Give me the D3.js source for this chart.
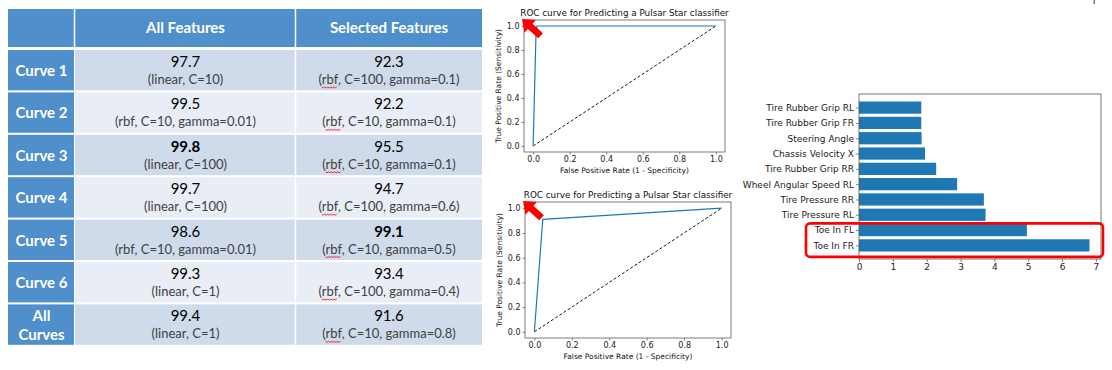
<!DOCTYPE html>
<html>
<head>
<meta charset="utf-8">
<script src="https://cdn.jsdelivr.net/npm/d3@7"></script>
<style>
  html, body { margin: 0; padding: 0; background: #fff; }
  svg { display: block; }
</style>
</head>
<body>
<div id="graphic"></div>
<script>
// table data
var rowLabels = ["Curve 1", "Curve 2", "Curve 3", "Curve 4", "Curve 5", "Curve 6", "All|Curves"];
var colHeaders = ["All Features", "Selected Features"];
var allScores = [97.7, 99.5, 99.8, 99.7, 98.6, 99.3, 99.4];
var allParams = ["(linear, C=10)", "(rbf, C=10, gamma=0.01)", "(linear, C=100)", "(linear, C=100)",
                 "(rbf, C=10, gamma=0.01)", "(linear, C=1)", "(linear, C=1)"];
var selScores = [92.3, 92.2, 95.5, 94.7, 99.1, 93.4, 91.6];
var selParams = ["(rbf, C=100, gamma=0.1)", "(rbf, C=10, gamma=0.1)", "(rbf, C=10, gamma=0.1)", "(rbf, C=100, gamma=0.6)",
                 "(rbf, C=10, gamma=0.5)", "(rbf, C=100, gamma=0.4)", "(rbf, C=10, gamma=0.8)"];

// roc curves
var rocTitle = "ROC curve for Predicting a Pulsar Star classifier";
var roc1Fpr = [0, 0.015, 0.02, 1];
var roc1Tpr = [0, 0.9, 1, 1];
var roc2Fpr = [0, 0.045, 1];
var roc2Tpr = [0, 0.91, 1];
var rocTicks = [0, 0.2, 0.4, 0.6, 0.8, 1.0];

// feature importance (top to bottom)
var features = ["Tire Rubber Grip RL", "Tire Rubber Grip FR", "Steering Angle", "Chassis Velocity X",
                "Tire Rubber Grip RR", "Wheel Angular Speed RL", "Tire Pressure RR", "Tire Pressure RL",
                "Toe In FL", "Toe In FR"];
var importance = [1.84, 1.84, 1.85, 1.95, 2.28, 2.90, 3.69, 3.74, 4.96, 6.81];
var impTicks = [0, 1, 2, 3, 4, 5, 6, 7];

var BLUE = "#1f77b4";
var tableFont = "Lato, 'Open Sans', sans-serif";
var mplFont = "'DejaVu Sans', sans-serif";

var svg = d3.select("#graphic").append("svg")
    .attr("width", 1112)
    .attr("height", 370);

// ---------- 1. table ----------
var colX = [8, 75, 296, 482];
var headTop = 9, headBot = 47;
var rowTop = 50, rowH = 42.4;

var table = svg.append("g");
table.append("rect")
    .attr("x", colX[0]).attr("y", headTop)
    .attr("width", colX[3] - colX[0]).attr("height", headBot - headTop)
    .attr("fill", "#4f8fcc");
// header column separators
[colX[1], colX[2]].forEach(function(x) {
  table.append("line").attr("x1", x - 0.5).attr("x2", x - 0.5)
      .attr("y1", headTop).attr("y2", headBot)
      .attr("stroke", "#fff").attr("stroke-width", 1.5);
});
colHeaders.forEach(function(h, j) {
  table.append("text")
      .attr("x", (colX[j + 1] + colX[j + 2]) / 2).attr("y", 33)
      .attr("text-anchor", "middle")
      .attr("font-family", tableFont).attr("font-weight", "bold")
      .attr("font-size", 15).attr("fill", "#fff")
      .text(h);
});

var maxAll = d3.max(allScores), maxSel = d3.max(selScores);
var rows = table.selectAll("g.row").data(rowLabels).join("g")
    .attr("class", "row")
    .attr("transform", function(d, i) { return "translate(0," + (rowTop + i * rowH) + ")"; });

rows.append("rect")
    .attr("x", colX[0]).attr("width", colX[1] - colX[0] - 1).attr("height", rowH - 2)
    .attr("fill", "#4f8fcc");
rows.append("rect")
    .attr("x", colX[1]).attr("width", colX[3] - colX[1]).attr("height", rowH - 2)
    .attr("fill", function(d, i) { return i % 2 === 0 ? "#cfdbeb" : "#e9eef6"; });
rows.append("line")
    .attr("x1", colX[2] - 0.5).attr("x2", colX[2] - 0.5)
    .attr("y1", 0).attr("y2", rowH - 2)
    .attr("stroke", "#fff").attr("stroke-width", 1.5);

rows.each(function(d, i) {
  var g = d3.select(this);
  var parts = d.split("|");
  parts.forEach(function(p, k) {
    g.append("text")
        .attr("x", (colX[0] + colX[1]) / 2)
        .attr("y", parts.length === 1 ? 26 : 17 + k * 19)
        .attr("text-anchor", "middle")
        .attr("font-family", tableFont).attr("font-weight", "bold")
        .attr("font-size", 15).attr("fill", "#fff")
        .text(p);
  });
  var cells = [[allScores[i], allParams[i], maxAll], [selScores[i], selParams[i], maxSel]];
  cells.forEach(function(c, j) {
    var cx = (colX[j + 1] + colX[j + 2]) / 2;
    g.append("text")
        .attr("x", cx).attr("y", 17)
        .attr("text-anchor", "middle")
        .attr("font-family", tableFont)
        .attr("font-weight", c[0] === c[2] ? "bold" : "normal")
        .attr("font-size", 15).attr("fill", "#000")
        .text(c[0].toFixed(1));
    var pt = g.append("text")
        .attr("x", cx).attr("y", 34)
        .attr("text-anchor", "middle")
        .attr("font-family", tableFont)
        .attr("font-size", 13).attr("fill", "#404040")
        .text(c[1]);
    // spell-check squiggle under "rbf" (only in the selected-features column)
    if (j === 1 && c[1].indexOf("(rbf") === 0) {
      var node = pt.node();
      var x0 = node.getStartPositionOfChar(1).x;
      var x1 = node.getEndPositionOfChar(3).x;
      var pts = [];
      for (var x = x0, k = 0; x <= x1; x += 1.5, k++) pts.push([x, 37 + (k % 2 ? 1 : 0)]);
      g.append("path").attr("d", d3.line()(pts))
          .attr("fill", "none").attr("stroke", "#e00").attr("stroke-width", 0.8);
    }
  });
});

// ---------- 2. ROC curves ----------
function arrow(g, tipX, tipY) {
  var sw = 7, hw = 17, hl = 11, L = 25;
  var pts = [[0, 0], [hl, -hw / 2], [hl, -sw / 2], [L, -sw / 2], [L, sw / 2], [hl, sw / 2], [hl, hw / 2]];
  g.append("path")
      .attr("d", d3.line()(pts) + "Z")
      .attr("fill", "#f00")
      .attr("transform", "translate(" + tipX + "," + tipY + ") rotate(42)");
}

function rocChart(box, fpr, tpr) {
  var g = svg.append("g");
  var x = d3.scaleLinear().domain([-0.05, 1.05]).range([box.left, box.right]);
  var y = d3.scaleLinear().domain([-0.05, 1.05]).range([box.bottom, box.top]);

  g.append("g").attr("transform", "translate(0," + box.bottom + ")")
      .call(d3.axisBottom(x).tickValues(rocTicks).tickFormat(d3.format(".1f")).tickSizeOuter(0).tickSize(2.5).tickPadding(2));
  g.append("g").attr("transform", "translate(" + box.left + ",0)")
      .call(d3.axisLeft(y).tickValues(rocTicks).tickFormat(d3.format(".1f")).tickSizeOuter(0).tickSize(2.5).tickPadding(2));
  g.selectAll(".domain").remove();
  g.selectAll(".tick line").attr("stroke", "#333").attr("stroke-width", 0.6);
  g.selectAll(".tick text").attr("font-family", mplFont).attr("font-size", 8).attr("fill", "#222");

  g.append("line")
      .attr("x1", x(0)).attr("y1", y(0)).attr("x2", x(1)).attr("y2", y(1))
      .attr("stroke", "#000").attr("stroke-width", 0.9).attr("stroke-dasharray", "3,2");
  var line = d3.line().x(function(d) { return x(d[0]); }).y(function(d) { return y(d[1]); });
  g.append("path").datum(d3.zip(fpr, tpr))
      .attr("d", line).attr("fill", "none").attr("stroke", BLUE).attr("stroke-width", 1.2);

  g.append("rect")
      .attr("x", box.left).attr("y", box.top)
      .attr("width", box.right - box.left).attr("height", box.bottom - box.top)
      .attr("fill", "none").attr("stroke", "#444").attr("stroke-width", 0.7);

  g.append("text")
      .attr("x", (box.left + box.right) / 2).attr("y", box.top - 4)
      .attr("text-anchor", "middle")
      .attr("font-family", mplFont).attr("font-size", 8.8).attr("fill", "#111")
      .text(rocTitle);
  g.append("text")
      .attr("x", (box.left + box.right) / 2).attr("y", box.bottom + 21)
      .attr("text-anchor", "middle")
      .attr("font-family", mplFont).attr("font-size", 7.5).attr("fill", "#111")
      .text("False Positive Rate (1 - Specificity)");
  g.append("text")
      .attr("transform", "translate(" + (box.left - 23) + "," + ((box.top + box.bottom) / 2) + ") rotate(-90)")
      .attr("text-anchor", "middle")
      .attr("font-family", mplFont).attr("font-size", 7.5).attr("fill", "#111")
      .text("True Positive Rate (Sensitivity)");

  arrow(g, x(-0.05) - 2, y(1.05) - 1);
}

rocChart({left: 524, right: 725, top: 20, bottom: 152}, roc1Fpr, roc1Tpr);
rocChart({left: 525, right: 731, top: 202, bottom: 338}, roc2Fpr, roc2Tpr);

// ---------- 3. feature importance ----------
var bl = 859, br = 1101, bt = 94, bb = 259;
var n = features.length;
var xb = d3.scaleLinear().domain([0, d3.max(importance) * 1.05]).range([bl, br]);
var yb = d3.scaleLinear().domain([-0.89, n - 1 + 0.89]).range([bb, bt]);
var bars = svg.append("g");

bars.selectAll("rect.bar").data(importance).join("rect")
    .attr("class", "bar")
    .attr("x", xb(0))
    .attr("y", function(d, i) { return yb(n - 1 - i + 0.4); })
    .attr("width", function(d) { return xb(d) - xb(0); })
    .attr("height", function(d, i) { return yb(n - 1 - i - 0.4) - yb(n - 1 - i + 0.4); })
    .attr("fill", BLUE);

bars.append("g").attr("transform", "translate(0," + bb + ")")
    .call(d3.axisBottom(xb).tickValues(impTicks).tickFormat(d3.format("d")).tickSizeOuter(0).tickSize(3).tickPadding(2));
bars.append("g").attr("transform", "translate(" + bl + ",0)")
    .call(d3.axisLeft(yb).tickValues(d3.range(n)).tickFormat(function(i) { return features[n - 1 - i]; })
      .tickSizeOuter(0).tickSize(3).tickPadding(2));
bars.selectAll(".domain").remove();
bars.selectAll(".tick line").attr("stroke", "#333").attr("stroke-width", 0.6);
bars.selectAll(".tick text").attr("font-family", mplFont).attr("font-size", 9).attr("fill", "#222");

bars.append("rect")
    .attr("x", bl).attr("y", bt).attr("width", br - bl).attr("height", bb - bt)
    .attr("fill", "none").attr("stroke", "#555").attr("stroke-width", 0.8);

// highlight of the two Toe In bars
bars.append("rect")
    .attr("x", 806).attr("y", yb(1.5) + 1)
    .attr("width", br + 2 - 806).attr("height", yb(-0.75) - yb(1.5) - 1)
    .attr("rx", 4)
    .attr("fill", "none").attr("stroke", "#f00").attr("stroke-width", 2.6);

// small mark at the top right
svg.append("rect").attr("x", 1093.5).attr("y", 0).attr("width", 1.5).attr("height", 4).attr("fill", "#777");
</script>
</body>
</html>
